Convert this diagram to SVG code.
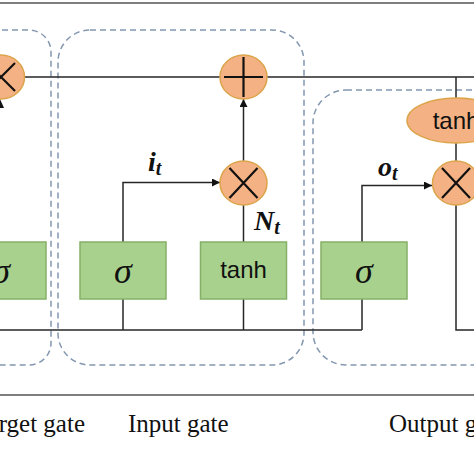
<svg xmlns="http://www.w3.org/2000/svg" width="474" height="474" viewBox="0 0 474 474">
<defs>
<style>
.line{fill:none;stroke:#262626;stroke-width:1.5}
.frame{fill:none;stroke:#7f7f7f;stroke-width:2}
.gate{fill:none;stroke:#8497B0;stroke-width:1.5;stroke-dasharray:6 4}
.op{fill:#F4B183;stroke:#DCA54C;stroke-width:1.5}
.box{fill:#A9D18E;stroke:#85B067;stroke-width:1.5}
.sym{stroke:#111;stroke-width:2.2;fill:none}
.sig{font-family:"Liberation Serif","DejaVu Serif",serif;font-style:italic;font-size:36px;fill:#111;text-anchor:middle}
.tanh{font-family:"Liberation Sans",Arial,sans-serif;font-size:24px;fill:#111;text-anchor:middle}
.var{font-family:"Liberation Serif","DejaVu Serif",serif;font-style:italic;font-weight:bold;font-size:28px;fill:#111}
.sub{font-size:20px}
.lab{font-family:"Liberation Serif","Times New Roman",serif;font-size:25px;fill:#111}
</style>
<marker id="arr" viewBox="0 0 10 10" refX="10" refY="5" markerWidth="8" markerHeight="8" markerUnits="userSpaceOnUse" orient="auto">
<path d="M0,0 L10,5 L0,10 z" fill="#111"/>
</marker>
</defs>
<rect width="474" height="474" fill="#ffffff"/>
<line class="frame" x1="0" y1="3" x2="474" y2="3"/>
<line class="frame" x1="0" y1="395" x2="474" y2="395"/>

<g id="gates">
<rect class="gate" x="-250" y="30" width="301" height="335" rx="22"/>
<rect class="gate" x="58" y="30" width="246" height="335" rx="32"/>
<rect class="gate" x="313" y="90" width="320" height="275" rx="33"/>
</g>

<g id="connectors">
<line class="line" x1="0" y1="77" x2="474" y2="77"/>
<line class="line" x1="456" y1="77" x2="456" y2="98"/>
<line class="line" x1="456" y1="143" x2="456" y2="161"/>
<polyline class="line" points="456,205 456,330 474,330"/>
<line class="line" x1="243.5" y1="161" x2="243.5" y2="99" marker-end="url(#arr)"/>
<line class="line" x1="243.5" y1="242" x2="243.5" y2="205"/>
<polyline class="line" points="123,242 123,182.5 220,182.5" marker-end="url(#arr)"/>
<polyline class="line" points="362,242 362,185.5 432,185.5" marker-end="url(#arr)"/>
<line class="line" x1="0" y1="330" x2="362" y2="330"/>
<line class="line" x1="123" y1="299" x2="123" y2="330"/>
<line class="line" x1="243.5" y1="299" x2="243.5" y2="330"/>
<line class="line" x1="362" y1="299" x2="362" y2="330"/>
<path d="M-4,108 L0,99 L4,108 z" fill="#111"/>
</g>

<g id="forget-mult">
<ellipse class="op" cx="1" cy="77" rx="23.5" ry="22"/>
<path class="sym" d="M-13,63 L15,91 M15,63 L-13,91"/>
</g>
<g id="forget-sigma">
<rect class="box" x="-40" y="242" width="86" height="57"/>
<text class="sig" x="1" y="283">σ</text>
</g>

<g id="input-plus">
<ellipse class="op" cx="243.5" cy="77" rx="23.5" ry="22"/>
<path class="sym" d="M224,77 L263,77 M243.5,57 L243.5,97"/>
</g>
<g id="input-mult">
<ellipse class="op" cx="243.5" cy="183" rx="23.5" ry="22"/>
<path class="sym" d="M229.5,168 L257.5,198 M257.5,168 L229.5,198"/>
</g>
<g id="input-sigma">
<rect class="box" x="80" y="242" width="86" height="57"/>
<text class="sig" x="123" y="283">σ</text>
</g>
<g id="input-tanh">
<rect class="box" x="200.5" y="242" width="86" height="57"/>
<text class="tanh" x="243.5" y="278">tanh</text>
</g>

<g id="output-tanh">
<ellipse class="op" cx="456" cy="120.5" rx="49" ry="22.5"/>
<text class="tanh" x="456" y="129">tanh</text>
</g>
<g id="output-mult">
<ellipse class="op" cx="456" cy="183" rx="23.5" ry="22"/>
<path class="sym" d="M442,168 L470,198 M470,168 L442,198"/>
</g>
<g id="output-sigma">
<rect class="box" x="321" y="242" width="86" height="57"/>
<text class="sig" x="364" y="283">σ</text>
</g>

<g id="var-labels">
<text class="var" x="148" y="171">i<tspan class="sub" dy="4">t</tspan></text>
<text class="var" x="254" y="230">N<tspan class="sub" dy="4">t</tspan></text>
<text class="var" x="378" y="176">o<tspan class="sub" dy="4">t</tspan></text>
</g>

<g id="gate-labels">
<text class="lab" x="85" y="432" text-anchor="end">Forget gate</text>
<text class="lab" x="128" y="432">Input gate</text>
<text class="lab" x="389" y="432">Output gate</text>
</g>
</svg>
